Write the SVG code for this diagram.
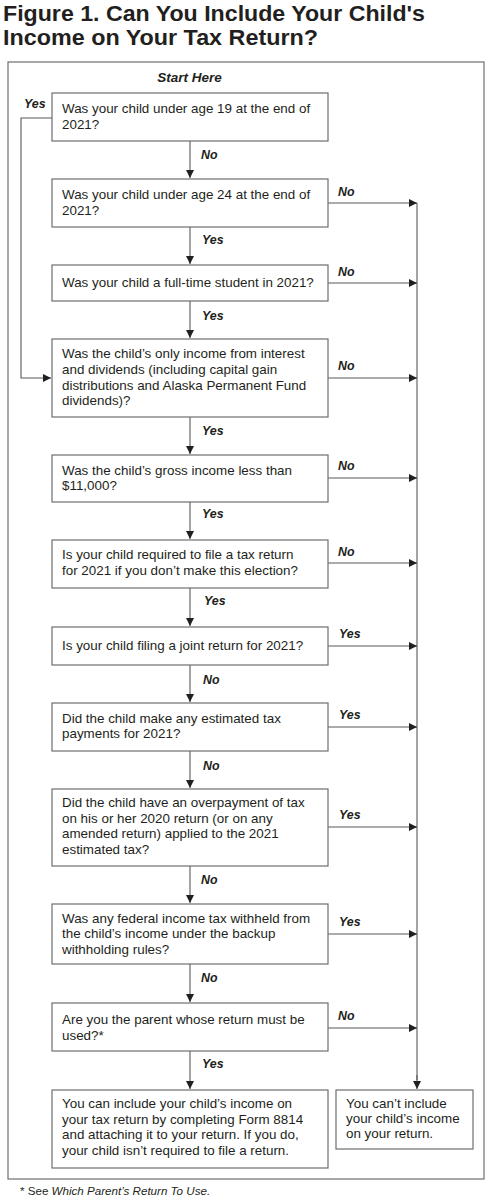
<svg xmlns="http://www.w3.org/2000/svg" width="488" height="1200" viewBox="0 0 488 1200">
<defs>
<marker id="ah" viewBox="0 0 10 10" refX="10" refY="5" markerWidth="8" markerHeight="8" markerUnits="userSpaceOnUse" orient="auto">
<path d="M0,0 L10,5 L0,10 z" fill="#231f20"/>
</marker>
<style>
.t{font-family:"Liberation Sans",Arial,sans-serif;font-size:13.4px;fill:#231f20}
.lb{font-family:"Liberation Sans",Arial,sans-serif;font-size:12.4px;font-weight:bold;font-style:italic;fill:#231f20}
.title{font-family:"Liberation Sans",Arial,sans-serif;font-size:22px;font-weight:bold;fill:#231f20}
.box{fill:#fff;stroke:#6d6e71;stroke-width:1.2}
.c{fill:none;stroke:#58595b;stroke-width:1.1;marker-end:url(#ah)}
.ln{fill:none;stroke:#58595b;stroke-width:1.1}
.fn{font-family:"Liberation Sans",Arial,sans-serif;font-size:11.6px;fill:#231f20}
</style>
</defs>
<rect width="488" height="1200" fill="#fff"/>
<text class="title" x="3" y="21" textLength="422" lengthAdjust="spacingAndGlyphs">Figure 1. Can You Include Your Child's</text>
<text class="title" x="3" y="45" textLength="315" lengthAdjust="spacingAndGlyphs">Income on Your Tax Return?</text>
<rect x="8" y="62" width="476" height="1117" fill="none" stroke="#6d6e71" stroke-width="1.2"/>
<text class="lb" x="189.5" y="82" text-anchor="middle" style="font-size:13.5px">Start Here</text>

<g id="connectors">
<polyline class="c" points="52,118 21,118 21,378 51,378"/>
<text class="lb" x="24" y="108">Yes</text>
<line class="c" x1="190" y1="141" x2="190" y2="178"/>
<text class="lb" x="201" y="159">No</text>
<line class="c" x1="190" y1="227" x2="190" y2="264"/>
<text class="lb" x="202" y="244">Yes</text>
<line class="c" x1="190" y1="301" x2="190" y2="338"/>
<text class="lb" x="202" y="320">Yes</text>
<line class="c" x1="190" y1="417" x2="190" y2="454"/>
<text class="lb" x="202" y="435">Yes</text>
<line class="c" x1="190" y1="502" x2="190" y2="539"/>
<text class="lb" x="202" y="518">Yes</text>
<line class="c" x1="190" y1="588" x2="190" y2="626"/>
<text class="lb" x="204" y="605">Yes</text>
<line class="c" x1="190" y1="665" x2="190" y2="702"/>
<text class="lb" x="203" y="684">No</text>
<line class="c" x1="190" y1="751" x2="190" y2="788"/>
<text class="lb" x="203" y="770">No</text>
<line class="c" x1="190" y1="866" x2="190" y2="903"/>
<text class="lb" x="201" y="884">No</text>
<line class="c" x1="190" y1="964" x2="190" y2="1002"/>
<text class="lb" x="201" y="982">No</text>
<line class="c" x1="190" y1="1051" x2="190" y2="1089"/>
<text class="lb" x="202" y="1068">Yes</text>

<line class="ln" x1="417" y1="203" x2="417" y2="1080"/>
<line class="c" x1="417" y1="1075" x2="417" y2="1089"/>
<line class="c" x1="328" y1="203" x2="417" y2="203"/>
<text class="lb" x="338" y="196">No</text>
<line class="c" x1="328" y1="283" x2="417" y2="283"/>
<text class="lb" x="338" y="276">No</text>
<line class="c" x1="328" y1="378" x2="417" y2="378"/>
<text class="lb" x="338" y="370">No</text>
<line class="c" x1="328" y1="478" x2="417" y2="478"/>
<text class="lb" x="338" y="470">No</text>
<line class="c" x1="328" y1="563" x2="417" y2="563"/>
<text class="lb" x="338" y="556">No</text>
<line class="c" x1="328" y1="646" x2="417" y2="646"/>
<text class="lb" x="339" y="638">Yes</text>
<line class="c" x1="328" y1="727" x2="417" y2="727"/>
<text class="lb" x="339" y="719">Yes</text>
<line class="c" x1="328" y1="827" x2="417" y2="827"/>
<text class="lb" x="339" y="819">Yes</text>
<line class="c" x1="328" y1="934" x2="417" y2="934"/>
<text class="lb" x="339" y="926">Yes</text>
<line class="c" x1="328" y1="1028" x2="417" y2="1028"/>
<text class="lb" x="338" y="1020">No</text>
</g>

<g id="q1"><rect class="box" x="52" y="93" width="276" height="48"/>
<text class="t" x="62" y="113">Was your child under age 19 at the end of</text>
<text class="t" x="62" y="129">2021?</text></g>
<g id="q2"><rect class="box" x="52" y="179" width="276" height="48"/>
<text class="t" x="62" y="199">Was your child under age 24 at the end of</text>
<text class="t" x="62" y="215">2021?</text></g>
<g id="q3"><rect class="box" x="52" y="265" width="276" height="36"/>
<text class="t" x="62" y="287">Was your child a full-time student in 2021?</text></g>
<g id="q4"><rect class="box" x="52" y="339" width="276" height="78"/>
<text class="t" x="62" y="358">Was the child’s only income from interest</text>
<text class="t" x="62" y="374">and dividends (including capital gain</text>
<text class="t" x="62" y="390">distributions and Alaska Permanent Fund</text>
<text class="t" x="62" y="405">dividends)?</text></g>
<g id="q5"><rect class="box" x="52" y="455" width="276" height="47"/>
<text class="t" x="62" y="475">Was the child’s gross income less than</text>
<text class="t" x="62" y="490">$11,000?</text></g>
<g id="q6"><rect class="box" x="52" y="540" width="276" height="48"/>
<text class="t" x="62" y="559">Is your child required to file a tax return</text>
<text class="t" x="62" y="575">for 2021 if you don’t make this election?</text></g>
<g id="q7"><rect class="box" x="52" y="627" width="276" height="38"/>
<text class="t" x="62" y="650">Is your child filing a joint return for 2021?</text></g>
<g id="q8"><rect class="box" x="52" y="703" width="276" height="48"/>
<text class="t" x="62" y="723">Did the child make any estimated tax</text>
<text class="t" x="62" y="738">payments for 2021?</text></g>
<g id="q9"><rect class="box" x="52" y="789" width="276" height="77"/>
<text class="t" x="62" y="807">Did the child have an overpayment of tax</text>
<text class="t" x="62" y="823">on his or her 2020 return (or on any</text>
<text class="t" x="62" y="838">amended return) applied to the 2021</text>
<text class="t" x="62" y="854">estimated tax?</text></g>
<g id="q10"><rect class="box" x="52" y="904" width="276" height="60"/>
<text class="t" x="62" y="923">Was any federal income tax withheld from</text>
<text class="t" x="62" y="938">the child’s income under the backup</text>
<text class="t" x="62" y="954">withholding rules?</text></g>
<g id="q11"><rect class="box" x="52" y="1003" width="276" height="48"/>
<text class="t" x="62" y="1024">Are you the parent whose return must be</text>
<text class="t" x="62" y="1040">used?*</text></g>
<g id="yes-end"><rect class="box" x="52" y="1090" width="276" height="78"/>
<text class="t" x="62" y="1108">You can include your child’s income on</text>
<text class="t" x="62" y="1124">your tax return by completing Form 8814</text>
<text class="t" x="62" y="1139">and attaching it to your return. If you do,</text>
<text class="t" x="62" y="1155">your child isn’t required to file a return.</text></g>
<g id="no-end"><rect class="box" x="336" y="1090" width="137" height="59"/>
<text class="t" x="346" y="1108">You can’t include</text>
<text class="t" x="346" y="1123">your child’s income</text>
<text class="t" x="346" y="1138">on your return.</text></g>

<text class="fn" x="20" y="1195">* See <tspan font-style="italic">Which Parent’s Return To Use.</tspan></text>
</svg>
